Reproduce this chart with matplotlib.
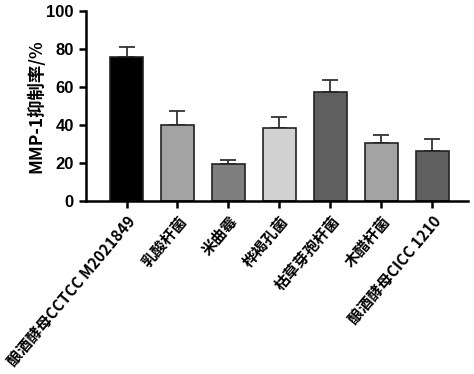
import numpy as np
import matplotlib
matplotlib.use('Agg')
import matplotlib.pyplot as plt

plt.rcParams['font.family'] = ['Noto Sans CJK SC', 'DejaVu Sans']

# bar data
labels = ['酿酒酵母CCTCC M2021849', '乳酸杆菌', '米曲霉', '桦褐孔菌',
          '枯草芽孢杆菌', '木醋杆菌', '酿酒酵母CICC 1210']
means = [75.8, 40.0, 19.6, 38.2, 57.5, 30.3, 26.5]
errors = [5.2, 7.4, 1.8, 6.2, 6.2, 4.3, 6.0]
colors = ['#000000', '#a3a3a3', '#7f7f7f', '#d2d2d2', '#5f5f5f', '#a3a3a3', '#5f5f5f']
yticks = [0, 20, 40, 60, 80, 100]

fig = plt.figure(figsize=(4.74, 3.74), dpi=100)
ax = fig.add_axes([0.181, 0.4626, 0.806, 0.508])

x = np.arange(len(labels))
ax.bar(x, means, width=0.65, color=colors, edgecolor='#222222', linewidth=1.2, zorder=2)
ax.errorbar(x, means, yerr=[np.zeros(len(errors)), errors], fmt='none',
            ecolor='#333333', elinewidth=1.3, capsize=5.5, capthick=1.3, zorder=1)

ax.set_xlim(-0.8, 6.7)
ax.set_ylim(0, 100)
ax.set_yticks(yticks)
ax.set_xticks(x)
ax.set_xticklabels(labels, rotation=50, ha='right', rotation_mode='anchor',
                   fontsize=11, fontweight='heavy')
for t in ax.get_yticklabels():
    t.set_fontweight('bold')
    t.set_fontsize(12)
    t.set_family(['Liberation Sans', 'DejaVu Sans'])
ax.set_ylabel('MMP-1抑制率/%', fontsize=12.5, fontweight='heavy', labelpad=1)

ax.spines['top'].set_visible(False)
ax.spines['right'].set_visible(False)
ax.spines['left'].set_linewidth(1.8)
ax.spines['bottom'].set_linewidth(1.8)
ax.tick_params(axis='both', width=1.8, length=5, direction='out')

fig.savefig('out.png', dpi=100)
